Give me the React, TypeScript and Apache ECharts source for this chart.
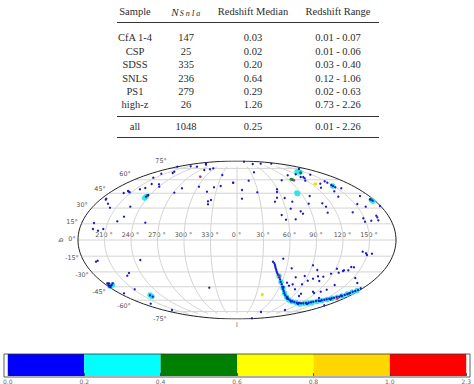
import React, { useEffect, useRef } from "react";
import * as echarts from "echarts";

// ---- table ----
const tableSamples = ["CfA 1-4", "CSP", "SDSS", "SNLS", "PS1", "high-z"];
const tableCounts = ["147", "25", "335", "236", "279", "26"];
const tableMedians = ["0.03", "0.02", "0.20", "0.64", "0.29", "1.26"];
const tableRanges = ["0.01 - 0.07", "0.01 - 0.06", "0.03 - 0.40", "0.12 - 1.06", "0.02 - 0.63", "0.73 - 2.26"];
const tableTotal = ["all", "1048", "0.25", "0.01 - 2.26"];

// ---- sky map: positions on the projected plane ----
const lonLabels = ["210 °", "240 °", "270 °", "300 °", "330 °", "0 °", "30 °", "60 °", "90 °", "120 °", "150 °"];
const latLabels = ["75°", "60°", "45°", "30°", "15°", "0°", "-15°", "-30°", "-45°", "-60°", "-75°"];

const bluePoints = [
  [-31,76.7],[-31,75.3],[-40,73.3],[-46.3,73.7],[-59.7,73.3],[-23.7,71.7],[-27,70.7],[-32.7,70],[-14.7,65],[-62.7,68.3],
  [-64.3,67],[-75.7,66.3],[-83.7,62.3],[-4,57.3],[-16.3,54],[-23,52.7],[-38,53.3],[-30,48.3],[-55,51.7],[-62.7,47.3],
  [-78,55.7],[-77.7,53.3],[-85.3,56],[-91.7,52],[-97,50.7],[-108,48.3],[-109,49],[-107.3,47.7],[-113.3,47],[-88.7,45],
  [-91,43.3],[-130.7,41.3],[-131.3,40.3],[-129,36.3],[-127,32.3],[-106.7,33.3],[-113,23.3],[-119.7,18.7],[-91.7,17.3],
  [-143,17],[-144,11],[-139,9.3],[-133.7,11],[-29,35.7],[-26,40],[-29,38.7],
  [7,78.3],[15.7,76],[23.7,76.3],[34.3,76.3],[17,67.7],[-3.7,57.3],[11.7,59.3],[5,50],[5,41.3],[20.3,47.7],[50.7,64.7],
  [44.7,59.7],[58.7,65.7],[62,71],[73.3,65.3],[63.7,63],[66.3,63],[67.7,61.7],[68.3,59.3],[87.7,58.7],[90.3,57.3],
  [83.3,56.3],[84,52.3],[94.3,55],[96,54],[98.3,52.7],[104.3,51.7],[97.3,48.7],[101.3,43.3],[123,44],[120.3,36],
  [128.7,33.3],[115.7,27.7],[143,34],[133,40.7],[135.7,39.3],[40,50.7],[40,48],[40,42.3],[38,38.3],[47.7,42],[55.3,38.3],
  [53.7,31.3],[44.7,25],[49,20.3],[58.7,20.7],[63.7,28.7],[66,26.3],[72.7,44],[71.7,36.3],[85.3,36.7],[89,33.3],[90.7,27.3],
  [126.3,21.7],[128,18.3],[134.3,19.3],[139.3,24.3],[140.3,22.7],[141.3,19.7],
  [-141,-21.7],[-139.3,-20.7],[-96.7,-20],[-108,-33],[-109.7,-35.7],[-102.3,-49.3],[-113,-53.3],[-86.3,-63.7],[-65,-70],
  [-27.7,-47.7],[-129.7,-43.3],[-128,-43.3],[-128.7,-45],[-127,-45.7],[-125.3,-45],[-124.3,-43.3],[-127.7,-46.7],[-126.3,-47],
  [-87,-55.3],[-84.3,-56.7],
  [46.3,-18.7],[54.7,-28.3],[58.7,-37.3],[50,-42.7],[52,-45.7],[55.7,-44.3],[58,-49.3],[65,-44.3],[67.7,-36],[70.7,-40.7],
  [76,-25.3],[80.3,-30],[81,-36.3],[76,-38.7],[82.3,-41],[86.3,-36.7],[94,-33.7],[100,-28.7],[101.7,-32.7],[106,-31],[107,-30.3],
  [111.3,-30.3],[114.3,-27],[117,-27.3],[118.3,-38],[120.3,-43],[97.7,-45],[89.7,-49.7],[83.7,-51.7],[76,-51.7],[77,-53],
  [64,-53.7],[62,-56],[82,-58],[48,-70],[24,-72],[15,-78.3],[87.3,-65.3],[125.7,-11.7],[129,-13.3],[130,-15],[135,-13.7],
];
const stripePoints = [
  [36,-21.7],[37.3,-23.3],[38,-25],[38.3,-26.7],[38.7,-28.3],[39.3,-30],[39.7,-31.7],[40.3,-33.3],[41.3,-35],[42.3,-37.3],
  [43,-39.3],[43.7,-41.7],[44.7,-44.3],[45.3,-46.7],[46,-49],[46.7,-51],[47.3,-53.3],[48.3,-55.3],[49.7,-57.3],[51.3,-59],
  [53,-60.3],[55.3,-61.3],[57.3,-62],[59.7,-62.7],[62,-63],[64,-63.3],[66.3,-63.3],[69,-63],[71.7,-62.7],[74,-62.3],
  [76.3,-61.7],[79,-61],[81.7,-60.7],[84.7,-60.3],[87.3,-59.7],[89.7,-59.3],[92.3,-58.7],[94.7,-58.3],[97,-57.7],[99.7,-57],
  [102.3,-56.7],[105,-56],[107.7,-55],[110.3,-54],[113,-53],[115.7,-51.7],[118.3,-51],[121,-50],[123.7,-48.3],
  [46.5,-47],[50,-58.5],[54,-61.5],[61,-64],[70,-64],[83,-61],[93.5,-59.5],[104,-55.5],[112,-53.5],
];
const cyanPoints = [
  [60.7,46.3],[59.8,47],[63,67.7],[60,68.2],[95.7,54],[134.3,40],[136,38.8],[-91,43.3],[-92.3,42],[-87,-55],[-85,-56.5],
  [-127,-46],[-124.5,-45],[42,-36],[44,-42],[46,-48],[47.5,-53],[49.5,-57],[52,-60],[55,-61.5],[59,-62.5],[63,-64],
  [67,-63.5],[71,-63],[75,-62.5],[80,-61.5],[85,-60.5],[90,-59.5],[95,-58.3],[100,-57.3],[105,-56],[110,-54],[115,-52.2],[120,-50.5],
];
const greenPoints = [[63.7,67.3],[54,60.7],[-89.5,44.5],[50.3,-57.3],[134,40.5],[55.7,60.3]];
const yellowPoints = [[78,56],[25.3,-54.7]];
const orangePoints = [[79,56.2]];
const redPoints = [[-36.7,63.3],[57,59.7],[100.3,-58.3],[42.3,-36]];

// ---- colour bar ----
const barColors = ["#0000ff", "#00ffff", "#008000", "#ffff00", "#ffd700", "#ff0000"];
const barTicks = ["0.0", "0.2", "0.4", "0.6", "0.8", "1.0", "2.3"];

// ---- layout only ----
const latLabelAt = [[161,161],[125,173.5],[100,188.5],[82,205],[72,222],[72,239],[72,257.5],[82,275],[99,292],[124,306],[160,319]];
const SERIF = '"Liberation Serif", serif';
const SANS = '"DejaVu Sans", sans-serif';
const HX = 159;
const HY = 79;

function theta(latDeg: number) {
  const phi = (latDeg * Math.PI) / 180;
  if (Math.abs(latDeg) >= 90) return Math.sign(latDeg) * Math.PI / 2;
  let t = phi;
  for (let i = 0; i < 30; i++) {
    t -= (2 * t + Math.sin(2 * t) - Math.PI * Math.sin(phi)) / (2 + 2 * Math.cos(2 * t));
  }
  return t;
}
function project(lon: number, lat: number) {
  const t = theta(lat);
  return [(HX * lon * Math.cos(t)) / 180, HY * Math.sin(t)];
}
function gratLines() {
  const out: any[] = [];
  for (let lon = -150; lon <= 150; lon += 30) {
    const pts: number[][] = [];
    for (let lat = -78; lat <= 78; lat += 3) pts.push(project(lon, lat));
    out.push(pts);
  }
  for (let lat = -75; lat <= 75; lat += 15) {
    out.push([project(-180, lat), project(180, lat)]);
  }
  return out;
}
function framePoints() {
  const pts: number[][] = [];
  for (let a = 0; a <= 360; a += 2) {
    pts.push([HX * Math.cos((a * Math.PI) / 180), HY * Math.sin((a * Math.PI) / 180)]);
  }
  return pts;
}

function serifText(text: string, x: number, y: number, extra: any = {}) {
  return {
    type: "text",
    silent: true,
    style: { text, x, y, font: `10.5px ${SERIF}`, fill: "#2c2c2c", textAlign: "center", textVerticalAlign: "middle", ...extra },
  };
}
function sansText(text: string, x: number, y: number, extra: any = {}) {
  return {
    type: "text",
    silent: true,
    style: { text, x, y, font: `6.4px ${SANS}`, fill: "#555555", textAlign: "center", textVerticalAlign: "middle", ...extra },
  };
}
function rule(x1: number, x2: number, y: number) {
  return { type: "line", silent: true, shape: { x1, y1: y, x2, y2: y }, style: { stroke: "#333", lineWidth: 1 } };
}

function buildGraphic() {
  const cols = [135, 186, 253, 338];
  const rowY = [37.7, 51, 64.5, 78, 91, 104.5];
  const els: any[] = [
    serifText("Sample", cols[0], 11),
    serifText("N", 175, 11.5, { font: `italic 11px ${SERIF}` }),
    serifText("S n I a", 190, 13.5, { font: `italic 8px ${SERIF}` }),
    serifText("Redshift Median", cols[2], 11),
    serifText("Redshift Range", cols[3], 11),
    rule(117, 379, 22.5),
    rule(117, 379, 116.5),
    rule(117, 379, 137.5),
  ];
  rowY.forEach((y, i) => {
    els.push(serifText(tableSamples[i], cols[0], y));
    els.push(serifText(tableCounts[i], cols[1], y));
    els.push(serifText(tableMedians[i], cols[2], y));
    els.push(serifText(tableRanges[i], cols[3], y));
  });
  tableTotal.forEach((t, i) => els.push(serifText(t, cols[i], 126.7)));
  lonLabels.forEach((t, i) => els.push(sansText(t, 104 + i * 26.5, 235.2)));
  latLabels.forEach((t, i) => els.push(sansText(t, latLabelAt[i][0], latLabelAt[i][1])));
  els.push(sansText("l", 237, 325));
  els.push({
    type: "text",
    silent: true,
    x: 61,
    y: 240,
    rotation: Math.PI / 2,
    style: { text: "b", x: 0, y: 0, font: `6.4px ${SANS}`, fill: "#555555", textAlign: "center", textVerticalAlign: "middle" },
  });
  els.push({
    type: "rect",
    silent: true,
    z: 100,
    shape: { x: 4, y: 354, width: 466, height: 23 },
    style: { fill: "none", stroke: "#333", lineWidth: 0.8 },
  });
  return els;
}

function dots(data: number[][], color: string, size: number, z: number) {
  return {
    type: "scatter",
    xAxisIndex: 0,
    yAxisIndex: 0,
    data,
    symbolSize: size,
    z,
    silent: true,
    clip: false,
    itemStyle: { color, opacity: 1 },
  };
}

export default function App() {
  const ref = useRef<HTMLDivElement>(null);
  useEffect(() => {
    const chart = echarts.init(ref.current!, undefined, { renderer: "svg" });
    const lineSeries = gratLines().map((pts) => ({
      type: "line",
      xAxisIndex: 0,
      yAxisIndex: 0,
      data: pts,
      showSymbol: false,
      silent: true,
      z: 1,
      lineStyle: { color: "#d4d4d4", width: 1 },
    }));
    chart.setOption({
      animation: false,
      backgroundColor: "#ffffff",
      grid: [
        { left: 78, top: 161, width: 318, height: 158 },
        { left: 4, top: 354, width: 466, height: 23 },
      ],
      xAxis: [
        { type: "value", gridIndex: 0, min: -HX, max: HX, show: false },
        {
          type: "value",
          gridIndex: 1,
          min: 0,
          max: 6,
          interval: 1,
          z: 50,
          axisLine: { show: false },
          splitLine: { show: false },
          axisTick: { show: true, inside: true, length: 3, lineStyle: { color: "#333", width: 0.8 } },
          axisLabel: {
            show: true,
            margin: 2,
            fontSize: 6,
            fontFamily: "DejaVu Sans",
            color: "#666",
            showMinLabel: true,
            showMaxLabel: true,
            formatter: (v: number) => barTicks[Math.round(v)],
          },
        },
      ],
      yAxis: [
        { type: "value", gridIndex: 0, min: -HY, max: HY, show: false },
        { type: "category", gridIndex: 1, data: ["z"], show: false },
      ],
      series: [
        ...lineSeries,
        {
          type: "line",
          xAxisIndex: 0,
          yAxisIndex: 0,
          data: framePoints(),
          showSymbol: false,
          silent: true,
          z: 2,
          lineStyle: { color: "#222", width: 1 },
        },
        dots(cyanPoints, "#33e6e6", 5.5, 3),
        dots(greenPoints, "#1a7a3a", 3, 4),
        dots(bluePoints, "#1818c4", 2.3, 5),
        dots(stripePoints, "#1420cc", 2.4, 5),
        dots(yellowPoints, "#e6e600", 3.2, 6),
        dots(orangePoints, "#ffd700", 2.5, 6),
        dots(redPoints, "#b03060", 2.6, 7),
        ...barColors.map((color) => ({
          type: "bar",
          xAxisIndex: 1,
          yAxisIndex: 1,
          stack: "bar",
          barWidth: "100%",
          data: [1],
          silent: true,
          itemStyle: { color },
        })),
      ],
      graphic: buildGraphic(),
    });
    return () => chart.dispose();
  }, []);
  return <div ref={ref} style={{ position: "absolute", left: 0, top: 0, width: 474, height: 384 }} />;
}
